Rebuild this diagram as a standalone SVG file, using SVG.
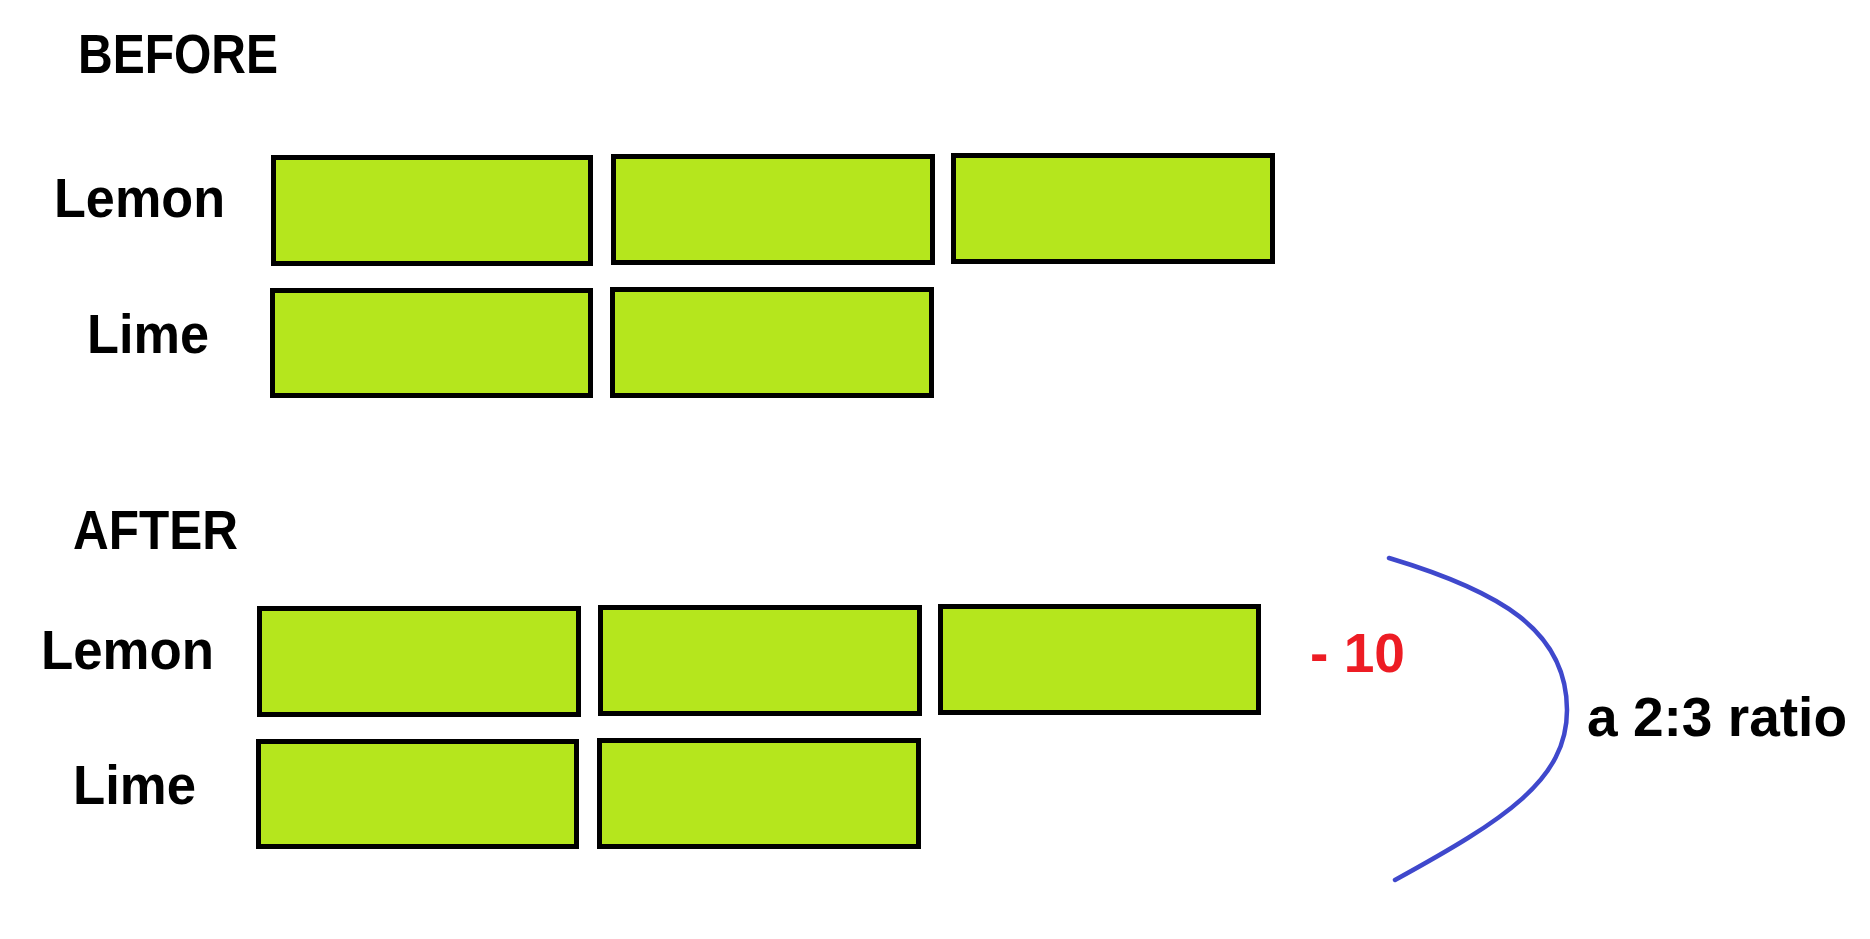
<svg xmlns="http://www.w3.org/2000/svg" width="1870" height="939" viewBox="0 0 1870 939">
<style>
.bar{fill:#b5e61d;stroke:#000;stroke-width:5}
.t{font-family:"Liberation Sans",Arial,sans-serif;font-weight:bold;fill:#000}
.lbl{font-size:55px}
.hd{font-size:56px}
.red{fill:#ed1c24;font-size:56px}
.arc{fill:none;stroke:#3f48cc;stroke-width:4.5;stroke-linecap:round}
</style>
<rect width="1870" height="939" fill="#fff"/>
<g id="before">
<text class="t hd" x="78" y="73" textLength="200" lengthAdjust="spacingAndGlyphs">BEFORE</text>
<g id="before-lemon">
<text class="t lbl" x="54" y="217" textLength="171" lengthAdjust="spacingAndGlyphs">Lemon</text>
<rect class="bar" x="273.5" y="157.5" width="317" height="106"/>
<rect class="bar" x="613.5" y="156.5" width="319" height="106"/>
<rect class="bar" x="953.5" y="155.5" width="319" height="106"/>
</g>
<g id="before-lime">
<text class="t lbl" x="87" y="353" textLength="122" lengthAdjust="spacingAndGlyphs">Lime</text>
<rect class="bar" x="272.5" y="290.5" width="318" height="105"/>
<rect class="bar" x="612.5" y="289.5" width="319" height="106"/>
</g>
</g>
<g id="after">
<text class="t hd" x="73" y="549" textLength="165" lengthAdjust="spacingAndGlyphs">AFTER</text>
<g id="after-lemon">
<text class="t lbl" x="41" y="669" textLength="173" lengthAdjust="spacingAndGlyphs">Lemon</text>
<rect class="bar" x="259.5" y="608.5" width="319" height="106"/>
<rect class="bar" x="600.5" y="607.5" width="319" height="106"/>
<rect class="bar" x="940.5" y="606.5" width="318" height="106"/>
<text class="t red" x="1310" y="672" textLength="95" lengthAdjust="spacingAndGlyphs">- 10</text>
</g>
<g id="after-lime">
<text class="t lbl" x="73" y="804" textLength="123" lengthAdjust="spacingAndGlyphs">Lime</text>
<rect class="bar" x="258.5" y="741.5" width="318" height="105"/>
<rect class="bar" x="599.5" y="740.5" width="319" height="106"/>
</g>
</g>
<g id="connectors">
<path class="arc" d="M1389,558 C1499,591 1567,630 1567,710 C1567,780 1505,819.5 1395,880"/>
</g>
<g id="ratio">
<text class="t lbl" x="1587" y="736" textLength="260" lengthAdjust="spacingAndGlyphs">a 2:3 ratio</text>
</g>
</svg>
